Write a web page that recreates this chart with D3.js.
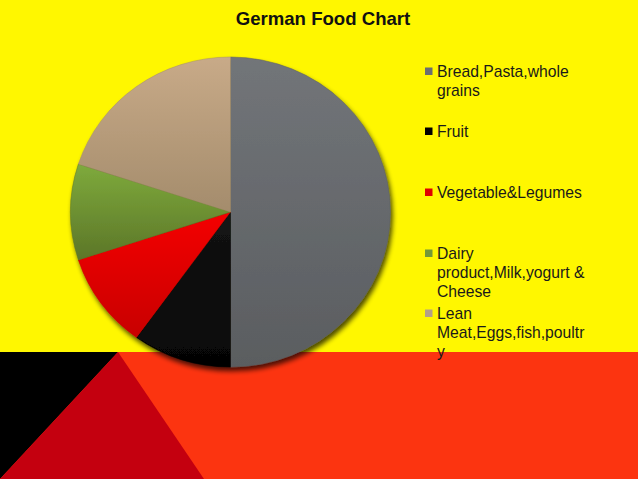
<!DOCTYPE html>
<html><head><meta charset="utf-8">
<script src="https://cdn.jsdelivr.net/npm/d3@7"></script>
<style>html,body{margin:0;padding:0;background:#fff700;overflow:hidden}</style>
</head><body>
<svg id="chart" width="638" height="479"></svg>
<script>
const title = "German Food Chart";
const categories = ["Bread,Pasta,whole grains","Fruit","Vegetable&Legumes","Dairy product,Milk,yogurt & Cheese","Lean Meat,Eggs,fish,poultry"];
const values = [50, 10, 10, 10, 20];
const legendLines = [["Bread,Pasta,whole","grains"],["Fruit"],["Vegetable&Legumes"],["Dairy","product,Milk,yogurt &","Cheese"],["Lean","Meat,Eggs,fish,poultr","y"]];
const colorsTop = ["#727579","#141414","#f40000","#7eaa3c","#c8aa88"];
const colorsBottom = ["#5a5d60","#050505","#c80000","#5c7628","#a48c6c"];
const legendColors = ["#6b6e72","#000000","#e00000","#739838","#b4a088"];

const W = 638, H = 479;
const svg = d3.select("#chart");
const defs = svg.append("defs");

// background
svg.append("rect").attr("width", W).attr("height", H).attr("fill", "#fff700");
const bandTop = 352;
svg.append("rect").attr("x",0).attr("y",bandTop).attr("width",W).attr("height",H-bandTop).attr("fill","#fc3410");
svg.append("path").attr("d",`M0,${bandTop}L118,${bandTop}L0,${H}Z`).attr("fill","#000");
svg.append("path").attr("d",`M118,${bandTop}L0,${H}L204,${H}Z`).attr("fill","#c4000f");

// shadow filter
const f = defs.append("filter").attr("id","sh").attr("x","-20%").attr("y","-20%").attr("width","140%").attr("height","140%");
f.append("feGaussianBlur").attr("in","SourceAlpha").attr("stdDeviation",2.5).attr("result","b");
f.append("feOffset").attr("in","b").attr("dx",2).attr("dy",4).attr("result","o");
f.append("feComponentTransfer").attr("in","o").attr("result","o2").append("feFuncA").attr("type","linear").attr("slope",0.7);
const m = f.append("feMerge");
m.append("feMergeNode").attr("in","o2");
m.append("feMergeNode").attr("in","SourceGraphic");

values.forEach((v,i)=>{
  const g = defs.append("linearGradient").attr("id","g"+i).attr("gradientUnits","objectBoundingBox")
    .attr("x1",0).attr("y1",0).attr("x2",0).attr("y2",1);
  g.append("stop").attr("offset","0%").attr("stop-color",colorsTop[i]);
  g.append("stop").attr("offset","100%").attr("stop-color",colorsBottom[i]);
});

const cx = 230.5, cy = 212, r = 160, ry = 155;
const pie = d3.pie().sort(null).value(d=>d)(values);
const arc = d3.arc().innerRadius(0).outerRadius(r);
const pg = svg.append("g").attr("transform",`translate(${cx},${cy}) scale(1,${ry/r})`).attr("filter","url(#sh)");
pg.selectAll("path").data(pie).join("path")
  .attr("d",arc)
  .attr("fill",(d,i)=>`url(#g${i})`)
  .attr("stroke",(d,i)=>colorsBottom[i]).attr("stroke-width",0.5);

// title
svg.append("text").attr("x",323).attr("y",25).attr("text-anchor","middle")
  .attr("font-family","Liberation Sans, Arial, sans-serif").attr("font-weight","bold")
  .attr("font-size",18.6).attr("fill","#111").text(title);

// legend
const legendY = [77,137,198,259,319];
const lg = svg.append("g").attr("font-family","Liberation Sans, Arial, sans-serif").attr("font-size",15.7).attr("fill","#1a1a1a");
categories.forEach((c,i)=>{
  lg.append("rect").attr("x",425).attr("y",legendY[i]-9.5).attr("width",7.5).attr("height",7.5).attr("fill",legendColors[i]);
  const t = lg.append("text").attr("x",437).attr("y",legendY[i]);
  legendLines[i].forEach((ln,j)=>{
    t.append("tspan").attr("x",437).attr("y",legendY[i]+j*19).text(ln);
  });
});
</script>
</body></html>
